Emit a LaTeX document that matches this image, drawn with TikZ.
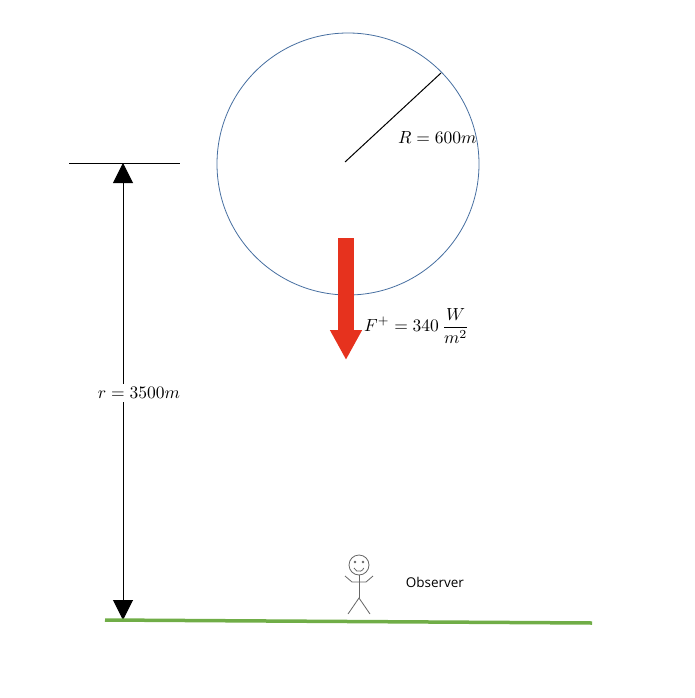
\documentclass[tikz,border=0pt]{standalone}
\usepackage{fontspec}
\setsansfont{Open Sans}
\usetikzlibrary{arrows.meta}
\begin{document}
\begin{tikzpicture}[x=1pt,y=-1pt,
  lbl/.style={scale=1.75, inner sep=1pt},
  stick/.style={draw=black!60, line width=0.8pt}]
\useasboundingbox (0,0) rectangle (694,698);
\node[circle, draw={rgb,255:red,70;green,110;blue,160}, line width=0.8pt, minimum size=262pt, inner sep=0] (c) at (348,164) {};
\coordinate (rc) at (345,162);
\coordinate (re) at (441,73);
\draw[line width=1pt] (rc) -- (re);
\node[lbl, anchor=west] (R) at (396,138) {$R=600m$};
\coordinate (t1) at (69,163);
\coordinate (t2) at (180,163);
\draw[line width=1pt] (t1) -- (t2);
\coordinate (tip) at (123,163);
\coordinate (bot) at (123,620);
\draw[line width=1pt, {Triangle[length=20pt,width=20pt]}-{Triangle[length=20pt,width=20pt]}] (tip) -- (bot);
\node[lbl, fill=white, inner sep=2pt] (r) at (139,393) {$r=3500m$};
\coordinate (g1) at (105,620);
\coordinate (g2) at (592,623);
\draw[line width=3.5pt, draw={rgb,255:red,112;green,173;blue,71}] (g1) -- (g2);
\coordinate (a1) at (346,238);
\coordinate (a2) at (346,360);
\draw[line width=16pt, draw={rgb,255:red,230;green,50;blue,30}, -{Triangle[length=30pt,width=30pt]}] (a1) -- (a2);
\node[lbl, anchor=west] (F) at (362,326) {$\displaystyle F^{+}=340\,\frac{W}{m^2}$};
% stick figure
\node[circle, stick, minimum size=20pt, inner sep=0] (head) at (359,565) {};
\draw[stick] (head.south) -- (359,598) coordinate (hip);
\draw[stick] (345,576) -- (352,582) -- (366,582) -- (373,576);
\draw[stick] (348,614) -- (hip) -- (370,614);
\fill[black!60] (355,562) circle (1.3pt) (363,562) circle (1.3pt);
\draw[stick] (354,568) arc (160:20:5.2);
\node[font=\sffamily, scale=1.35, anchor=west] (obs) at (401,582) {Observer};
\end{tikzpicture}
\end{document}
